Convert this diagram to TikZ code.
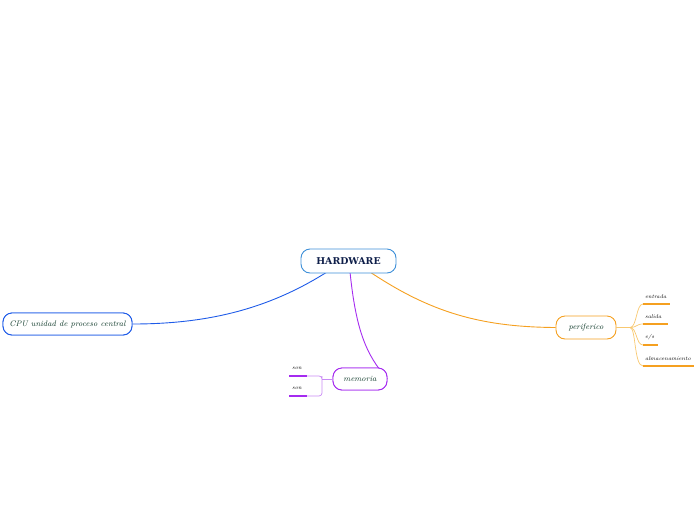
\documentclass[tikz,border=0pt]{standalone}
\usepackage{fontspec}
\newfontfamily\hwfont{DejaVu Serif}
\usetikzlibrary{positioning}
\definecolor{hwblue}{HTML}{3D8FD8}
\definecolor{cpublue}{HTML}{1E5BE8}
\definecolor{mempurple}{HTML}{A52BF0}
\definecolor{memlight}{HTML}{C98AF5}
\definecolor{perorange}{HTML}{F5A020}
\definecolor{perlight}{HTML}{F8C870}
\definecolor{txtgreen}{HTML}{0F3A2A}
\definecolor{navy}{HTML}{0F1F4A}
\tikzset{
  x=1pt, y=-1pt,
  topicbox/.style={draw, rounded corners=9pt, line width=0.9pt, fill=white, inner sep=0pt, text=txtgreen, font=\itshape\fontsize{8}{9}\selectfont},
  leaflabel/.style={inner sep=0pt, text=black, font=\itshape\fontsize{5.5}{6}\selectfont},
}
\begin{document}
\begin{tikzpicture}
\useasboundingbox (0,0) rectangle (696,520);
% connectors
\coordinate (hwL) at (327,272);
\coordinate (hwM) at (350,272);
\coordinate (hwR) at (370,272);
\node[topicbox, draw=cpublue, minimum width=129pt, minimum height=22pt] (cpu) at (67.5,324) {CPU unidad de proceso central};
\node[topicbox, draw=mempurple, minimum width=54pt, minimum height=22pt] (mem) at (360,379) {memoria};
\node[topicbox, draw=perorange, minimum width=60pt, minimum height=23pt] (per) at (586,327.5) {periferico};
\draw[cpublue, line width=0.9pt] (hwL) .. controls (270,308) and (210,324) .. (cpu.east);
\draw[mempurple, line width=0.9pt] (hwM) .. controls (356,330) and (366,355) .. (mem.east);
\draw[perorange, line width=0.9pt] (hwR) .. controls (430,312) and (480,327) .. (per.west);
\node[draw=hwblue, rounded corners=9pt, line width=0.9pt, fill=white, minimum width=95pt, minimum height=24pt, inner sep=0pt, text=navy, font=\hwfont\bfseries\fontsize{9.4}{10}\selectfont] (hw) at (348.5,261) {HARDWARE};
% redraw topic boxes on top
\node[topicbox, draw=cpublue, minimum width=129pt, minimum height=22pt] at (67.5,324) {CPU unidad de proceso central};
\node[topicbox, draw=mempurple, minimum width=54pt, minimum height=22pt] at (360,379) {memoria};
% memoria leaves
\coordinate (mj) at (322,379);
\coordinate (s1a) at (289,376); \coordinate (s1b) at (307,376);
\coordinate (s2a) at (289,396); \coordinate (s2b) at (307,396);
\node[leaflabel] (son1) at (297,368) {son};
\node[leaflabel] (son2) at (297,388) {son};
\draw[memlight, line width=0.7pt] (mem.west) -- (mj);
\draw[memlight, line width=0.7pt, rounded corners=3pt] (s1b) -| (mj) |- (s2b);
\draw[mempurple, line width=1.3pt] (s1a) -- (s1b);
\draw[mempurple, line width=1.3pt] (s2a) -- (s2b);
% periferico leaves
\coordinate (pj) at (630,327.5);
\coordinate (e1a) at (643,304); \coordinate (e1b) at (670,304);
\coordinate (e2a) at (643,324); \coordinate (e2b) at (668,324);
\coordinate (e3a) at (643,345); \coordinate (e3b) at (658,345);
\coordinate (e4a) at (643,366); \coordinate (e4b) at (694,366);
\draw[perlight, line width=0.7pt] (per.east) -- (pj);
\draw[perlight, line width=0.7pt] (pj) .. controls (637,327.5) and (636,304) .. (e1a);
\draw[perlight, line width=0.7pt] (pj) .. controls (637,327.5) and (636,324) .. (e2a);
\draw[perlight, line width=0.7pt] (pj) .. controls (637,327.5) and (636,345) .. (e3a);
\draw[perlight, line width=0.7pt] (pj) .. controls (636,327.5) and (634,366) .. (e4a);
\draw[perorange, line width=1.3pt] (e1a) -- (e1b);
\draw[perorange, line width=1.3pt] (e2a) -- (e2b);
\draw[perorange, line width=1.3pt] (e3a) -- (e3b);
\draw[perorange, line width=1.3pt] (e4a) -- (e4b);
\node[leaflabel, anchor=south west] (l1) at (645,298.5) {entrada};
\node[leaflabel, anchor=south west] (l2) at (645,319) {salida};
\node[leaflabel, anchor=south west] (l3) at (645,340) {e/s};
\node[leaflabel, anchor=south west] (l4) at (645,360.5) {almacenamiento};
\end{tikzpicture}
\end{document}
